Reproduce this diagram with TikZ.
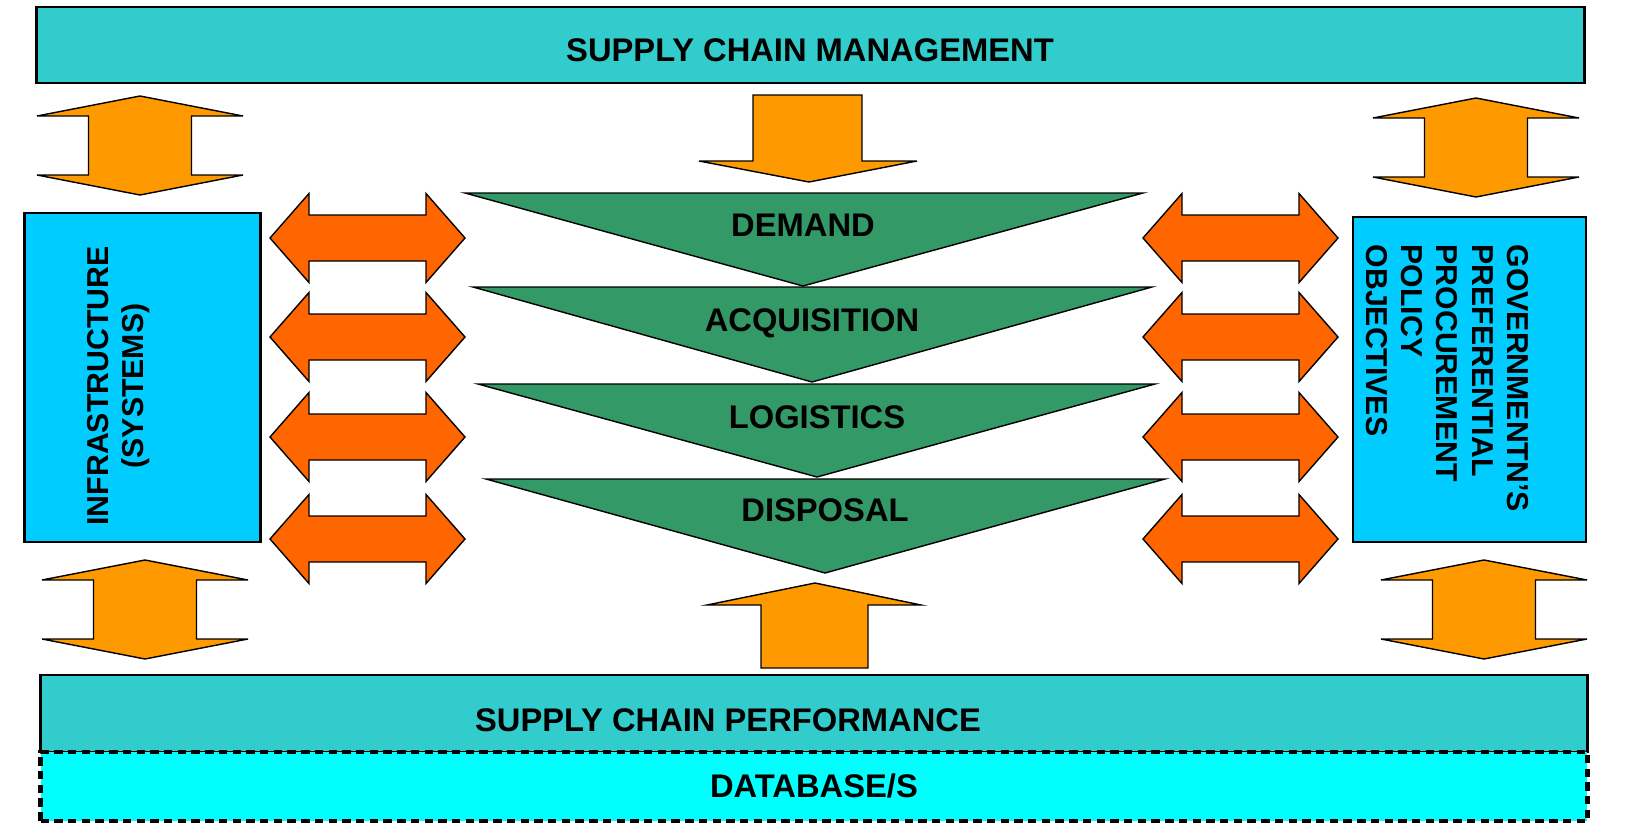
\documentclass[tikz,border=0pt]{standalone}
\usepackage{fontspec}
\setmainfont{Liberation Sans}
\usepackage{xcolor}
\usetikzlibrary{positioning}

\definecolor{mgmtteal}{HTML}{33CCCC}
\definecolor{sideblue}{HTML}{00CCFF}
\definecolor{flowgold}{HTML}{FF9900}
\definecolor{linkorange}{HTML}{FF6600}
\definecolor{stagegreen}{HTML}{339966}
\definecolor{dbcyan}{HTML}{00FFFF}

\begin{document}
\begin{tikzpicture}[x=0.01cm, y=-0.01cm,
  lbl/.style={font=\fontsize{9.3}{10}\selectfont\bfseries, inner sep=0pt},
  sidelbl/.style={font=\fontsize{8.6}{10}\selectfont\bfseries, inner sep=0pt},
  bar/.style={draw, rectangle, fill=mgmtteal, line width=0.75pt, inner sep=0pt},
  sidebox/.style={draw, rectangle, fill=sideblue, line width=0.7pt, inner sep=0pt},
  pushar/.style={draw, fill=flowgold, line width=0.4pt, line join=miter},
  linkar/.style={draw, fill=linkorange, line width=0.4pt, line join=miter},
  stage/.style={draw, fill=stagegreen, line width=0.4pt}]
  \useasboundingbox (0,0) rectangle (1629,830);

  % Top and bottom bars
  \node (mgmt) [bar, minimum width=15.47cm, minimum height=0.76cm] at (810.5,45) {};
  \node (perf) [bar, minimum width=15.46cm, minimum height=0.77cm] at (814,713.5) {};
  \node (db) [draw, rectangle, fill=dbcyan, dash pattern=on 2.4pt off 1.5pt,
    line width=1.2pt, inner sep=0pt, minimum width=15.46cm, minimum height=0.69cm] at (814,786.5) {};
  \node (mgmttext) [lbl, anchor=base] at (810,61.5) {SUPPLY CHAIN MANAGEMENT};
  \node (perftext) [lbl, anchor=base] at (728,731.5) {SUPPLY CHAIN PERFORMANCE};
  \node (dbtext) [lbl, anchor=base] at (814,797.5) {DATABASE/S};

  % Side boxes
  \node (infra) [sidebox, minimum width=2.36cm, minimum height=3.29cm] at (142.5,377.5) {};
  \node (govt) [sidebox, minimum width=2.33cm, minimum height=3.25cm] at (1469.5,379.5) {};
  \node (infratext) [sidelbl, rotate=90, align=center] at (118.5,386) {INFRASTRUCTURE\\(SYSTEMS)};
  \node (govttext) [sidelbl, rotate=-90, align=left, anchor=north west] at (1529,244)
    {GOVERNMENTN'S\\PREFERENTIAL\\PROCUREMENT\\POLICY\\OBJECTIVES};

  % Vertical double arrows at the corners
  \foreach \cx/\ty/\by in {140/96/195, 1476/98/197, 145/560/659, 1484/560/659}
    \draw[pushar] (\cx,\ty) -- (\cx+103,\ty+20) -- (\cx+51.5,\ty+20) -- (\cx+51.5,\by-20)
      -- (\cx+103,\by-20) -- (\cx,\by) -- (\cx-103,\by-20) -- (\cx-51.5,\by-20)
      -- (\cx-51.5,\ty+20) -- (\cx-103,\ty+20) -- cycle;

  % Down and up arrows in the middle
  \draw[pushar] (753,95) -- (862,95) -- (862,161) -- (917,161) -- (809,182)
    -- (699,161) -- (753,161) -- cycle;
  \draw[pushar] (815,583) -- (921,605) -- (868,605) -- (868,668) -- (761,668)
    -- (761,605) -- (707,605) -- cycle;

  % Horizontal double arrows on both sides
  \foreach \lx in {270,1143}
    \foreach \cy in {238,337,437,539}
      \draw[linkar] (\lx,\cy) -- (\lx+39,\cy-44.5) -- (\lx+39,\cy-23) -- (\lx+156,\cy-23)
        -- (\lx+156,\cy-44.5) -- (\lx+195,\cy) -- (\lx+156,\cy+44.5) -- (\lx+156,\cy+23)
        -- (\lx+39,\cy+23) -- (\lx+39,\cy+44.5) -- cycle;

  % Stages
  \foreach \lx/\rx/\ty/\tx/\by/\bl/\nm/\txt in {
      465/1143/193/803/286/236.5/demand/DEMAND,
      473/1152/287/812/382/331.5/acquisition/ACQUISITION,
      478/1155/384/817/477/428.5/logistics/LOGISTICS,
      486/1165/479/825/573/521.5/disposal/DISPOSAL} {
    \draw[stage] (\lx,\ty) -- (\rx,\ty) -- (\tx,\by) -- cycle;
    \node (\nm) [lbl, anchor=base] at (\tx,\bl) {\txt};
  }
\end{tikzpicture}
\end{document}
